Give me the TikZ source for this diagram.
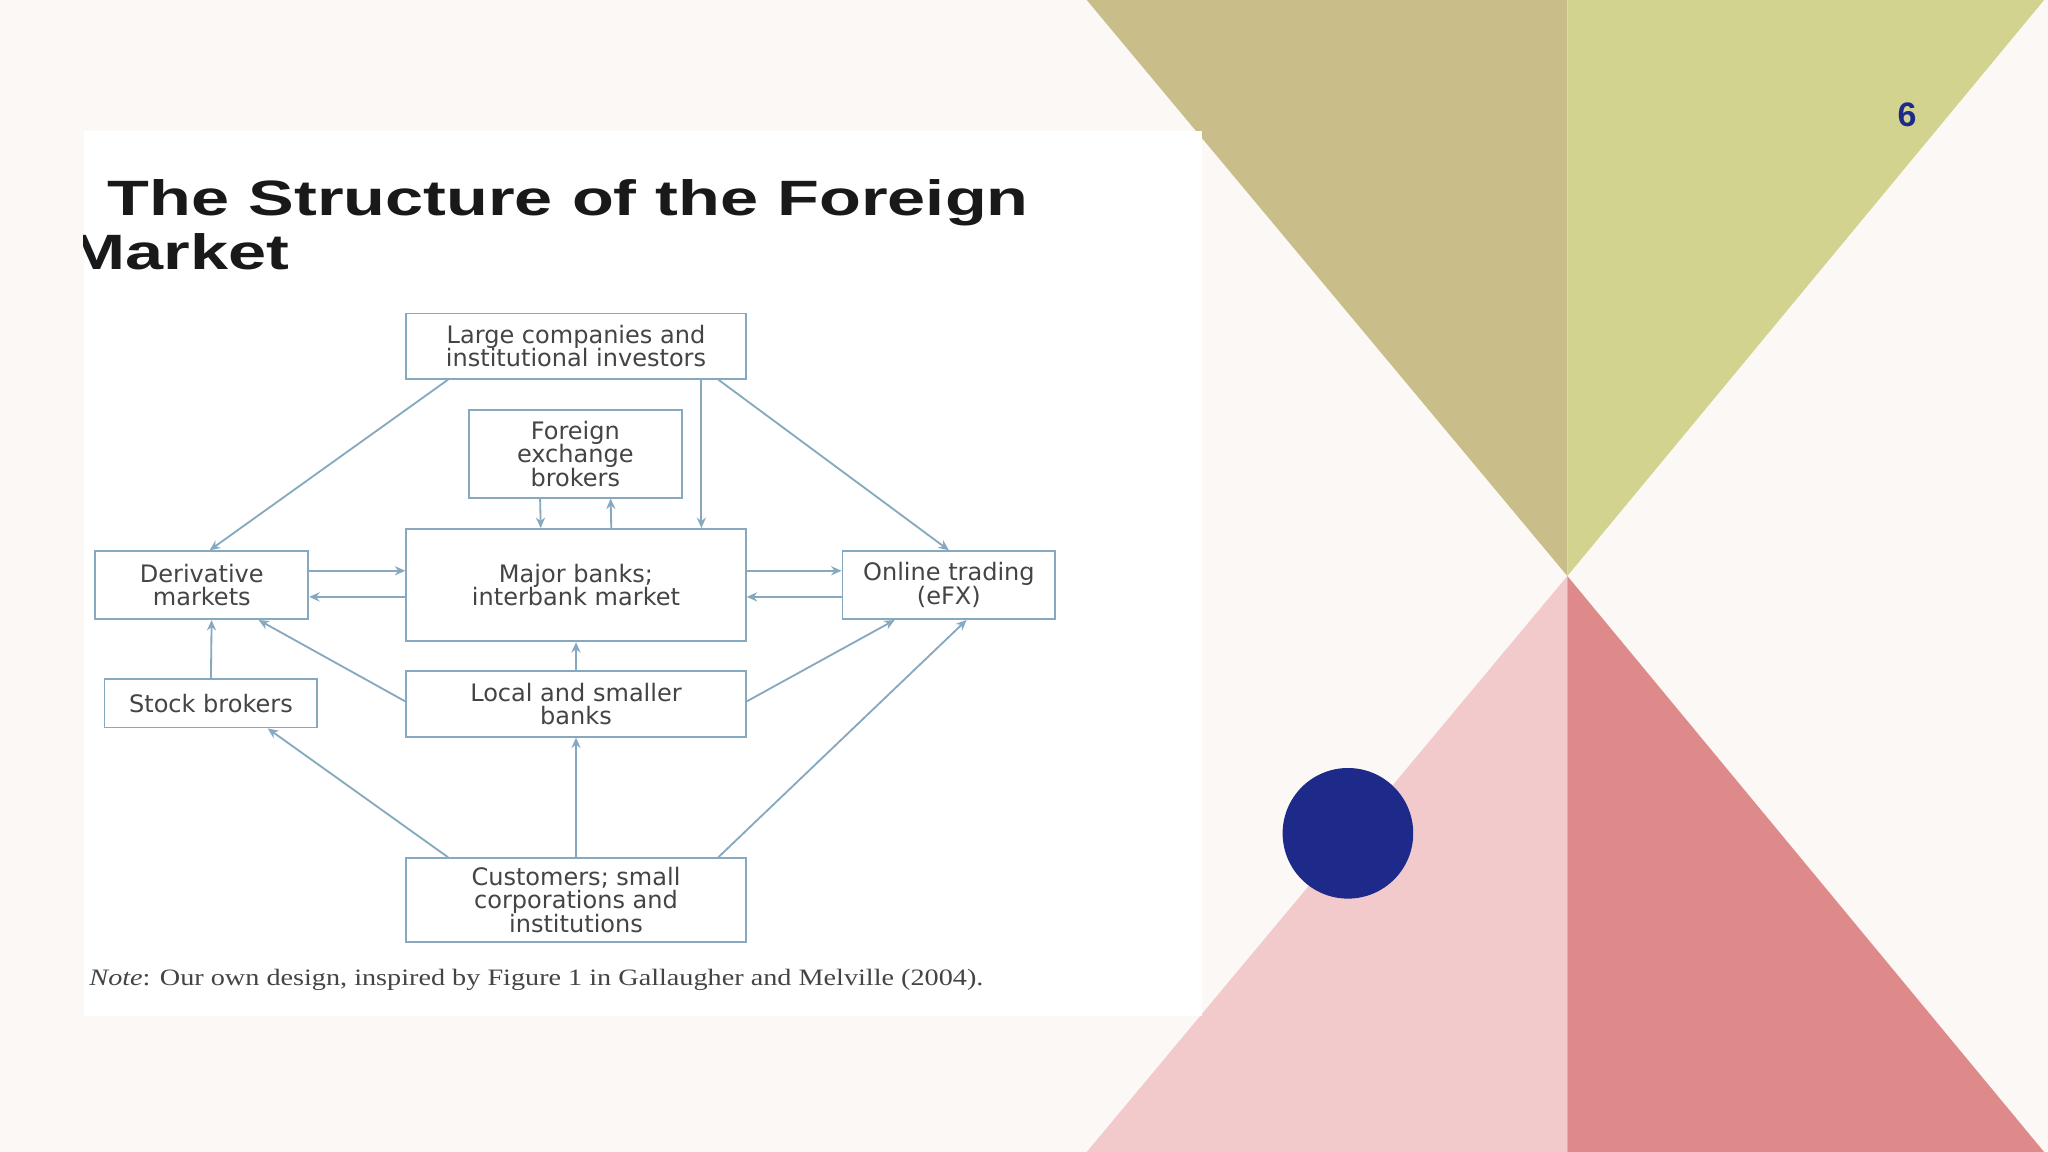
\documentclass[tikz,border=0pt]{standalone}
\usepackage{fontspec}
\setmainfont{Liberation Sans}
\newfontfamily\serifnote{Liberation Serif}
\newfontfamily\boxfont{DejaVu Sans}
\usetikzlibrary{arrows.meta}
\definecolor{bg}{HTML}{FCF8F5}
\definecolor{olive}{HTML}{C9BE8A}
\definecolor{lgreen}{HTML}{D2D38F}
\definecolor{lpink}{HTML}{F3CACB}
\definecolor{dpink}{HTML}{DE8A8A}
\definecolor{navy}{HTML}{1E2A8A}
\definecolor{edge}{HTML}{86A9C0}
\definecolor{txt}{HTML}{444444}
\tikzset{
 bx/.style={draw=edge,line width=0.7pt,fill=white,text=txt,align=center,font=\boxfont\fontsize{9.2}{9}\selectfont,inner sep=1pt},
 ar/.style={draw=edge,line width=0.7pt,-{Stealth[length=4pt,width=3.5pt]}},
 ttl/.style={anchor=west,font=\bfseries\fontsize{19}{19}\selectfont,text=black!90,xscale=1.38,inner sep=0pt}
}
\begin{document}
\begin{tikzpicture}[x=0.5pt,y=-0.5pt]
\useasboundingbox (0,0) rectangle (1568,882);
\fill[bg] (0,0) rectangle (1568,882);
\fill[olive] (832,0) -- (1200,0) -- (1200,441) -- cycle;
\fill[lgreen] (1200,0) -- (1565,0) -- (1200,441) -- cycle;
\fill[lpink] (832,882) -- (1200,441) -- (1200,882) -- cycle;
\fill[dpink] (1200,441) -- (1565,882) -- (1200,882) -- cycle;
\fill[navy] (1032,638) circle (25pt);
\node[text=navy,font=\bfseries\fontsize{13}{13}\selectfont] (num) at (1460,88) {6};
\fill[white] (64,100) rectangle (920,778);
\begin{scope}
\clip (64,100) rectangle (920,778);
\node[ttl] (t1) at (82,155) {The Structure of the Foreign};
\node[ttl] (t2) at (52,193) {Market};
\end{scope}
\node[bx,minimum width=130pt,minimum height=25pt] (large) at (441,265) {Large companies and\\institutional investors};
\node[bx,minimum width=81.5pt,minimum height=33.5pt] (fxb) at (440.5,347.5) {Foreign\\exchange\\brokers};
\node[bx,minimum width=81.5pt,minimum height=26pt] (deriv) at (154.5,448) {Derivative\\markets};
\node[bx,minimum width=130pt,minimum height=43pt] (major) at (441,448) {Major banks;\\interbank market};
\node[bx,minimum width=81.5pt,minimum height=26pt] (online) at (726.5,448) {Online trading\\(eFX)};
\node[bx,minimum width=81.5pt,minimum height=18.5pt] (stock) at (161.5,538.5) {Stock brokers};
\node[bx,minimum width=130pt,minimum height=25pt] (local) at (441,539) {Local and smaller\\banks};
\node[bx,minimum width=130pt,minimum height=32pt] (cust) at (441,689) {Customers; small\\corporations and\\institutions};
\draw[ar] ([xshift=-49pt]large.south) -- ([xshift=3pt]deriv.north);
\draw[ar] ([xshift=48pt]large.south) -- ([xshift=48pt]major.north);
\draw[ar] ([xshift=54.5pt]large.south) -- ([xshift=0pt]online.north);
\draw[ar] ([xshift=-13.5pt]fxb.south) -- ([xshift=-13.5pt]major.north);
\draw[ar] ([xshift=13.5pt]major.north) -- ([xshift=13.5pt]fxb.south);
\draw[ar] ([yshift=5.5pt]deriv.east) -- ([yshift=5.5pt]major.west);
\draw[ar] ([yshift=-4.5pt]major.west) -- ([yshift=-4.5pt]deriv.east);
\draw[ar] ([yshift=5.5pt]major.east) -- ([yshift=5.5pt]online.west);
\draw[ar] ([yshift=-4.5pt]online.west) -- ([yshift=-4.5pt]major.east);
\draw[ar] (stock.north) -- ([xshift=3.75pt]deriv.south);
\draw[ar] ([yshift=1pt]local.west) -- ([xshift=21.75pt]deriv.south);
\draw[ar] (local.north) -- (major.south);
\draw[ar] ([yshift=1pt]local.east) -- ([xshift=-20.75pt]online.south);
\draw[ar] ([xshift=-49pt]cust.north) -- ([xshift=21.75pt]stock.south);
\draw[ar] (cust.north) -- (local.south);
\draw[ar] ([xshift=54.5pt]cust.north) -- ([xshift=6.75pt]online.south);
\node[anchor=west,text=txt,inner sep=0pt,xscale=1.2,font=\serifnote\fontsize{9}{9}\selectfont] (note) at (68,750) {\textit{Note}: Our own design, inspired by Figure 1 in Gallaugher and Melville (2004).};
\end{tikzpicture}
\end{document}
